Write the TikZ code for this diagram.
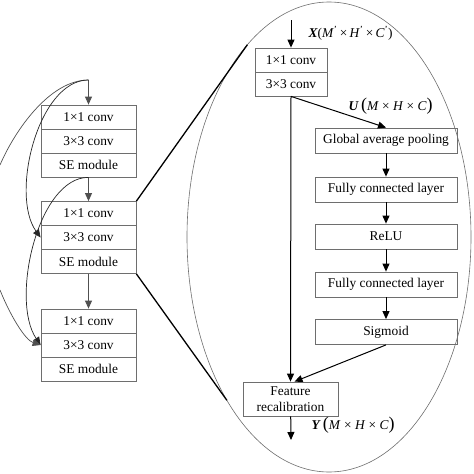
\documentclass[tikz,border=0pt]{standalone}
\usepackage{fontspec}
\setmainfont{Liberation Serif}
\usetikzlibrary{positioning, arrows.meta, shapes.geometric}
\definecolor{boxgray}{RGB}{110,110,110}
\definecolor{linegray}{RGB}{80,80,80}
\newcommand{\bigopen}{{\fontsize{18}{18}\selectfont(}}
\newcommand{\bigclose}{{\fontsize{18}{18}\selectfont)}}

\begin{document}
\begin{tikzpicture}[x=1pt, y=-1pt,
  every node/.style={font=\fontsize{13.4}{16}\selectfont},
  blockrow/.style={draw=boxgray, line width=0.8pt, minimum width=95pt,
                   minimum height=24pt, inner sep=0pt},
  convbox/.style={blockrow, minimum width=72pt},
  stage/.style={draw=boxgray, line width=0.8pt, minimum width=142pt,
                minimum height=25pt, inner sep=0pt, align=center},
  garr/.style={-{Triangle[length=8pt,width=7pt]}, line width=0.9pt, color=linegray},
  skiparr/.style={-{Triangle[length=8pt,width=7pt]}, line width=0.7pt, color=black!85},
  arr/.style={-{Triangle[length=8pt,width=7pt]}, line width=1pt, color=black},
  zoomline/.style={line width=1.3pt, color=black},
]
  \useasboundingbox (0,0) rectangle (474,474);

  % magnified view
  \node[ellipse, draw=boxgray, line width=0.6pt, minimum width=284pt,
        minimum height=470pt, inner sep=0pt, outer sep=0pt] (lens) at (329,237) {};

  % stacked blocks
  \node[blockrow] (b1a) at (88.5,117) {1×1 conv};
  \node[blockrow] (b1b) at (88.5,141) {3×3 conv};
  \node[blockrow] (b1c) at (88.5,165) {SE module};
  \node[blockrow] (b2a) at (88.5,213.5) {1×1 conv};
  \node[blockrow] (b2b) at (88.5,237.5) {3×3 conv};
  \node[blockrow] (b2c) at (88.5,261.5) {SE module};
  \node[blockrow] (b3a) at (88.5,321) {1×1 conv};
  \node[blockrow] (b3b) at (88.5,345) {3×3 conv};
  \node[blockrow] (b3c) at (88.5,369) {SE module};

  \coordinate (in1) at (88.5,80);
  \coordinate (offa) at (0,165);
  \coordinate (offd) at (0,290);

  \draw[garr] (in1) -- (b1a);
  \draw[garr] (b1c) -- (b2a);
  \draw[garr] (b2c) -- (b3a);
  \draw[linegray, line width=0.7pt] (in1) .. controls (50,80) and (15,130) .. (offa);
  \draw[skiparr] (in1) .. controls (38,80) and (10,195) .. (b2b.west);
  \draw[skiparr] (b1c.south) .. controls (38,177) and (10,300) .. (b3b.west);
  \draw[skiparr, color=linegray] (offd) .. controls (10,315) and (25,340) .. (b3b.west);

  \draw[zoomline] (b2a.north east) -- (lens.113);
  \draw[zoomline] (b2c.south east) -- (lens.238);

  % SE block detail
  \node[convbox] (c1) at (291,60) {1×1 conv};
  \node[convbox] (c3) at (291,84) {3×3 conv};
  \node[stage] (gap) at (386,140.5) {Global average pooling};
  \node[stage] (fc1) at (386,189.5) {Fully connected layer};
  \node[stage] (relu) at (386,236.5) {ReLU};
  \node[stage] (fc2) at (386,284.5) {Fully connected layer};
  \node[stage] (sig) at (386,332) {Sigmoid};
  \node[stage, minimum width=95pt, minimum height=34pt] (fr) at (290.5,399) {Feature\\recalibration};

  \coordinate (xin) at (291,20);
  \coordinate (yout) at (291,440);

  \node[anchor=west] (xlab) at (305,33)
    {\textbf{\textit{X}}(\textit{M}\textsuperscript{'}\,×\,\textit{H}\textsuperscript{'}\,×\,\textit{C}\textsuperscript{'})};
  \node[anchor=west] (ulab) at (345,106)
    {\textbf{\textit{U}}\,\bigopen\textit{M} × \textit{H} × \textit{C}\bigclose};
  \node[anchor=west] (ylab) at (308,425)
    {\textbf{\textit{Y}}\,\bigopen\textit{M} × \textit{H} × \textit{C}\bigclose};

  \draw[arr] (xin) -- (c1);
  \draw[arr] (c3.south) -- (gap.north);
  \draw[arr] (gap) -- (fc1);
  \draw[arr] (fc1) -- (relu);
  \draw[arr] (relu) -- (fc2);
  \draw[arr] (fc2) -- (sig);
  \draw[arr] (c3.south) -- (fr.north);
  \draw[arr] (sig.south) -- ([xshift=4pt]fr.north);
  \draw[arr] (fr) -- (yout);
\end{tikzpicture}
\end{document}
